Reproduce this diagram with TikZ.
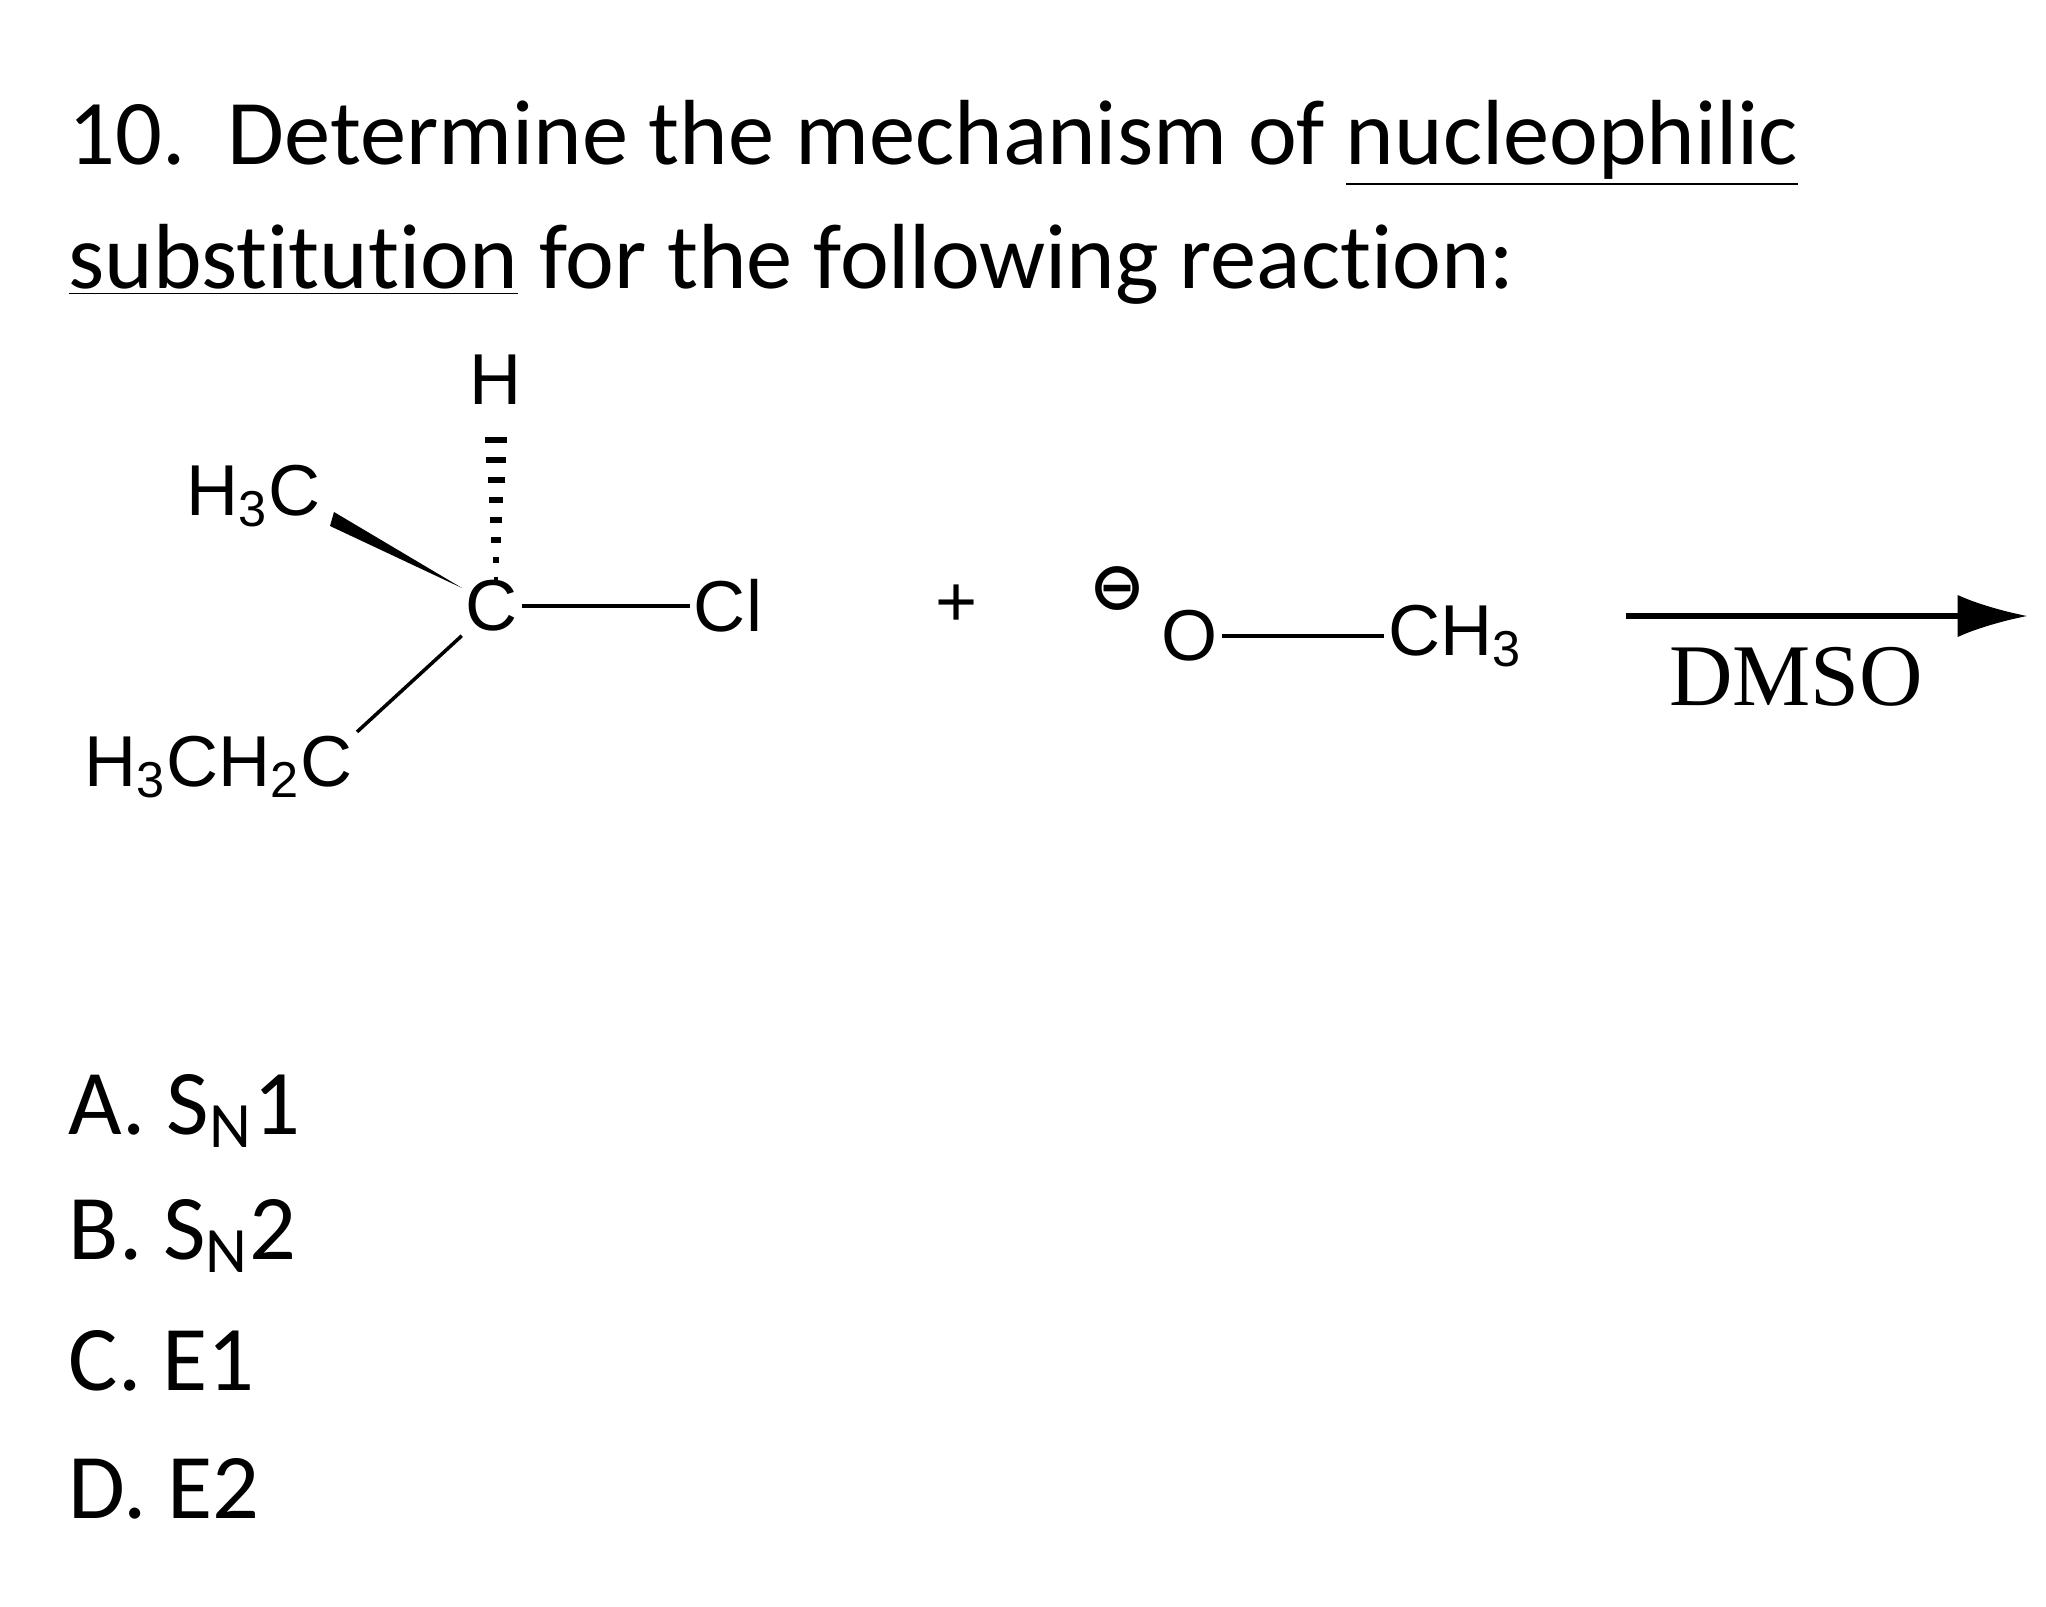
\documentclass[tikz,border=0pt]{standalone}
\usepackage{fontspec}
\setmainfont[Ligatures={NoCommon}]{Carlito}
\newfontfamily\arialf{Liberation Sans}
\newfontfamily\timesf{Liberation Serif}
\newfontfamily\dejaf{DejaVu Sans}
\usetikzlibrary{arrows.meta}
\begin{document}
\begin{tikzpicture}[x=0.01cm,y=-0.01cm,
  qtext/.style={anchor=base west,inner sep=0,font=\fontsize{26.3}{32}\selectfont},
  atom/.style={inner sep=1pt,font=\arialf\fontsize{20.5}{24}\selectfont},
  bond/.style={line width=1pt}]
\useasboundingbox (0,0) rectangle (2046,1606);
\node[qtext] (l1) at (68,164) {10.\ \ Determine the mechanism of \underline{nucleophilic}};
\node[qtext] (l2) at (68,288) {\underline{substitution} for the following reaction:};
% molecule
\node[atom] (C) at (492,606) {C};
\node[atom] (Cl) at (728,606) {Cl};
\node[atom] (H) at (496,380) {H};
\node[atom,anchor=east] (Me) at (325,496) {H\textsubscript{3}C};
\node[atom,anchor=east] (Et) at (357,767) {H\textsubscript{3}CH\textsubscript{2}C};
\draw[bond] (C.east) -- (Cl.west);
\draw[bond] (Et.north east) -- (C.south west);
\fill (334,512) -- (462,588) -- (330,526) -- cycle;
\foreach \i in {0,...,7}{
  \pgfmathsetmacro\yy{580-\i*20}
  \pgfmathsetmacro\w{2+\i*1.3}
  \draw[line width=1.6pt] (496-\w,\yy) -- (496+\w,\yy);
}
\node[atom] (plus) at (957,606) {+};
\node[atom] (O) at (1190,636) {O};
\node[inner sep=0,font=\dejaf\bfseries\fontsize{19}{22}\selectfont] (neg) at (1117,588) {⊖};
\node[atom] (CH3) at (1455,636) {CH\textsubscript{3}};
\draw[bond] (O.east) -- (CH3.west);
\coordinate (a1) at (1626,616);
\coordinate (a2) at (2028,616);
\draw[line width=1.6pt,-{Latex[length=20,width=12]}] (a1) -- (a2);
\node[anchor=base,inner sep=0,font=\timesf\fontsize{25}{30}\selectfont] (dmso) at (1796,705) {DMSO};
% options
\node[qtext] (A) at (68,1134) {A. S\textsubscript{N}1};
\node[qtext] (B) at (68,1259) {B. S\textsubscript{N}2};
\node[qtext] (Cc) at (68,1390) {C. E1};
\node[qtext] (D) at (68,1518) {D. E2};
\end{tikzpicture}
\end{document}
